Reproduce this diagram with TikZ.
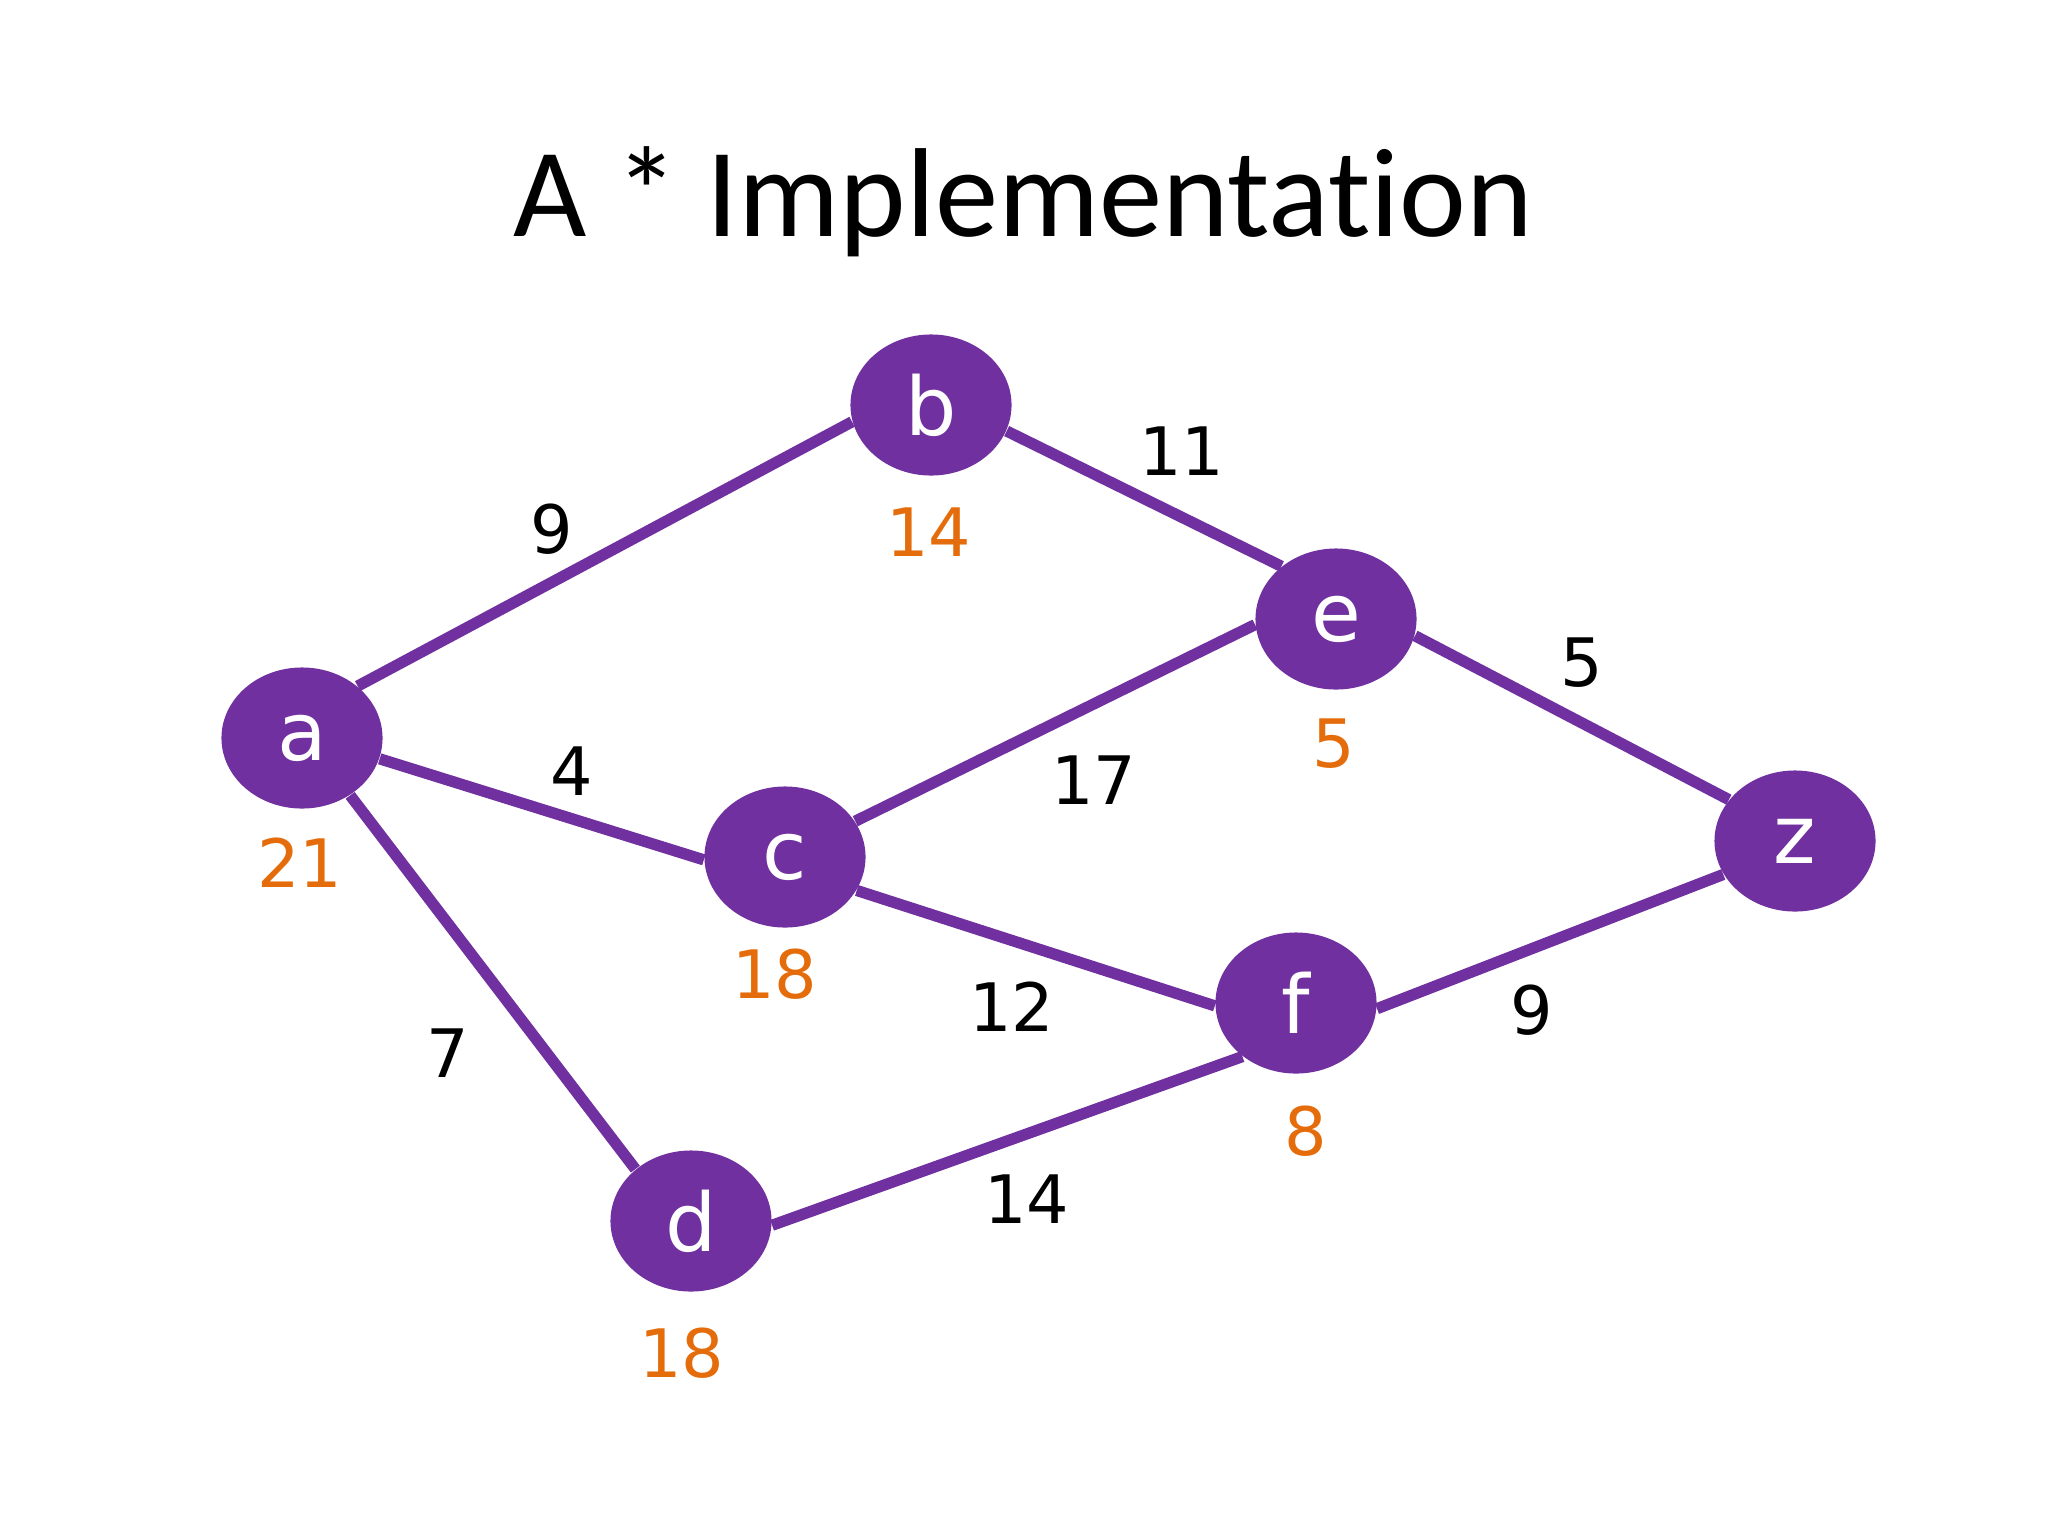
\documentclass[tikz,border=0pt]{standalone}
\usepackage{fontspec}
\setmainfont{DejaVu Sans}
\newfontfamily\titlefont[Ligatures={NoCommon}]{Carlito}
\usetikzlibrary{shapes.geometric}
\definecolor{pur}{HTML}{7030A0}
\definecolor{org}{HTML}{E46C0A}
\tikzset{
  vtx/.style={ellipse, fill=pur, minimum width=1.61cm, minimum height=1.41cm, inner sep=0pt, text=white, font=\fontsize{23}{23}\selectfont},
  edge/.style={draw=pur, line width=3.2pt},
  wlab/.style={text=black, font=\fontsize{19}{19}\selectfont, inner sep=0pt},
  hlab/.style={text=org, font=\fontsize{19}{19}\selectfont, inner sep=0pt}
}
\begin{document}
\begin{tikzpicture}[x=0.01cm,y=-0.01cm]
\useasboundingbox (0,0) rectangle (2048,1536);
\node[anchor=base, font=\titlefont\fontsize{36}{36}\selectfont] (title) at (1023,236) {A * Implementation};
\node[vtx] (a) at (302,738) {a};
\node[vtx] (b) at (931,405) {b};
\node[vtx] (c) at (785,857) {c};
\node[vtx] (d) at (691,1221) {d};
\node[vtx] (e) at (1336,619) {e};
\node[vtx] (f) at (1296,1003) {f};
\node[vtx] (z) at (1795,841) {z};
\draw[edge] (a.43) -- (b.192);
\draw[edge] (a.-15) -- (c.182);
\draw[edge] (a.-50) -- (d.137);
\draw[edge] (b.-19) -- (e.136);
\draw[edge] (c.27) -- (e.184);
\draw[edge] (c.-25) -- (f.182);
\draw[edge] (e.-12) -- (z.148);
\draw[edge] (d.-3) -- (f.225);
\draw[edge] (f.-4) -- (z.205);
\node[wlab] (w1) at (552,529) {9};
\node[wlab] (w2) at (1182,451) {11};
\node[wlab] (w3) at (572,771) {4};
\node[wlab] (w4) at (1094,780) {17};
\node[wlab] (w5) at (1582,663) {5};
\node[wlab] (w6) at (1012,1007) {12};
\node[wlab] (w7) at (448,1053) {7};
\node[wlab] (w8) at (1532,1010) {9};
\node[wlab] (w9) at (1027,1199) {14};
\node[hlab] (h1) at (929,532) {14};
\node[hlab] (h2) at (300,863) {21};
\node[hlab] (h3) at (1334,744) {5};
\node[hlab] (h4) at (775,974) {18};
\node[hlab] (h5) at (1306,1131) {8};
\node[hlab] (h6) at (682,1353) {18};
\end{tikzpicture}
\end{document}
